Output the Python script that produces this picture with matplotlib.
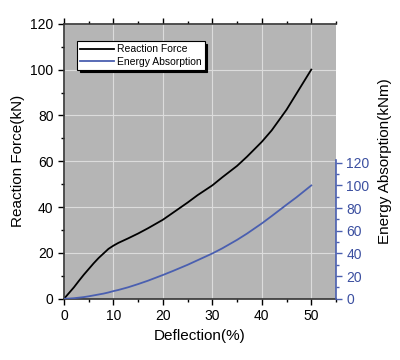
import matplotlib
matplotlib.use("Agg")
from matplotlib import pyplot as plt
from matplotlib.ticker import MultipleLocator, FixedLocator

plt.rcParams['font.family'] = ['Liberation Sans', 'DejaVu Sans']

deflection = [0, 1, 2, 3, 4, 5, 6, 7, 8, 9, 10, 11, 12, 13, 15, 17, 20, 22, 25, 27,
              30, 32, 35, 37, 40, 42, 45, 47, 50]
reaction_force = [0, 2.5, 5, 7.8, 10.5, 13, 15.5, 17.8, 19.8, 21.8, 23.2, 24.4, 25.4, 26.4,
                  28.5, 30.8, 34.5, 37.5, 42, 45.2, 49.5, 53, 58, 62, 68.5, 73.5, 82.5, 89.5, 100]
energy_absorption = [0, 0.2, 0.5, 1, 1.5, 2.2, 3, 3.8, 4.6, 5.6, 6.8, 7.8, 9, 10.2, 13, 16,
                     21, 24.5, 30, 34, 40, 44.5, 52, 57.5, 66.5, 73, 83, 89.5, 100]

fig = plt.figure(figsize=(4, 3.6), dpi=100)
ax = fig.add_axes([0.16, 0.17, 0.68, 0.764])
ax.set_facecolor('#b5b5b5')

ax.plot(deflection, reaction_force, color='black', lw=1.3, label='Reaction Force')
ax.plot([], [], color='#4a5fb0', lw=1.3, label='Energy Absorption')

ax.set_xlim(0, 55)
ax.set_ylim(0, 120)
ax.xaxis.set_major_locator(MultipleLocator(10))
ax.xaxis.set_minor_locator(MultipleLocator(5))
ax.yaxis.set_major_locator(MultipleLocator(20))
ax.yaxis.set_minor_locator(MultipleLocator(10))
ax.grid(True, which='major', color='#dcdcdc', lw=0.8)
ax.set_axisbelow(True)
ax.tick_params(which='both', direction='out', top=True, labelsize=10)
ax.tick_params(which='major', length=4, width=1)
ax.tick_params(which='minor', length=2.5, width=1)
for s in ax.spines.values():
    s.set_linewidth(1.2)
    s.set_color('#333333')
ax.spines['right'].set_visible(False)
ax.set_xlabel('Deflection(%)', fontsize=11)
ax.set_ylabel('Reaction Force(kN)', fontsize=11)

ax2 = ax.twinx()
ax2.plot(deflection, energy_absorption, color='#4a5fb0', lw=1.3)
ax2.set_ylim(0, 242.6)
ax2.set_yticks([0, 20, 40, 60, 80, 100, 120])
ax2.yaxis.set_minor_locator(FixedLocator([10, 30, 50, 70, 90, 110]))
ax2.spines['right'].set_bounds(0, 122)
ax2.spines['right'].set_color('#4a5fb0')
ax2.spines['right'].set_linewidth(1.2)
ax2.spines['top'].set_visible(False)
ax2.spines['left'].set_visible(False)
ax2.spines['bottom'].set_visible(False)
ax2.tick_params(which='both', direction='out', colors='#4a5fb0', labelcolor='#3b4fa0', labelsize=10)
ax2.tick_params(which='major', length=4, width=1)
ax2.tick_params(which='minor', length=2.5, width=1)
ax2.set_ylabel('Energy Absorption(kNm)', fontsize=11, labelpad=6)

leg = ax.legend(loc='upper left', fontsize=7.5, frameon=True, fancybox=False,
                shadow={'color': 'black', 'alpha': 1.0}, borderpad=0.3,
                handlelength=3.2, labelspacing=0.2, handletextpad=0.3,
                bbox_to_anchor=(0.03, 0.955))
leg.get_frame().set_edgecolor('black')
leg.get_frame().set_facecolor('white')
leg.get_frame().set_linewidth(0.8)

fig.savefig('out.png')
